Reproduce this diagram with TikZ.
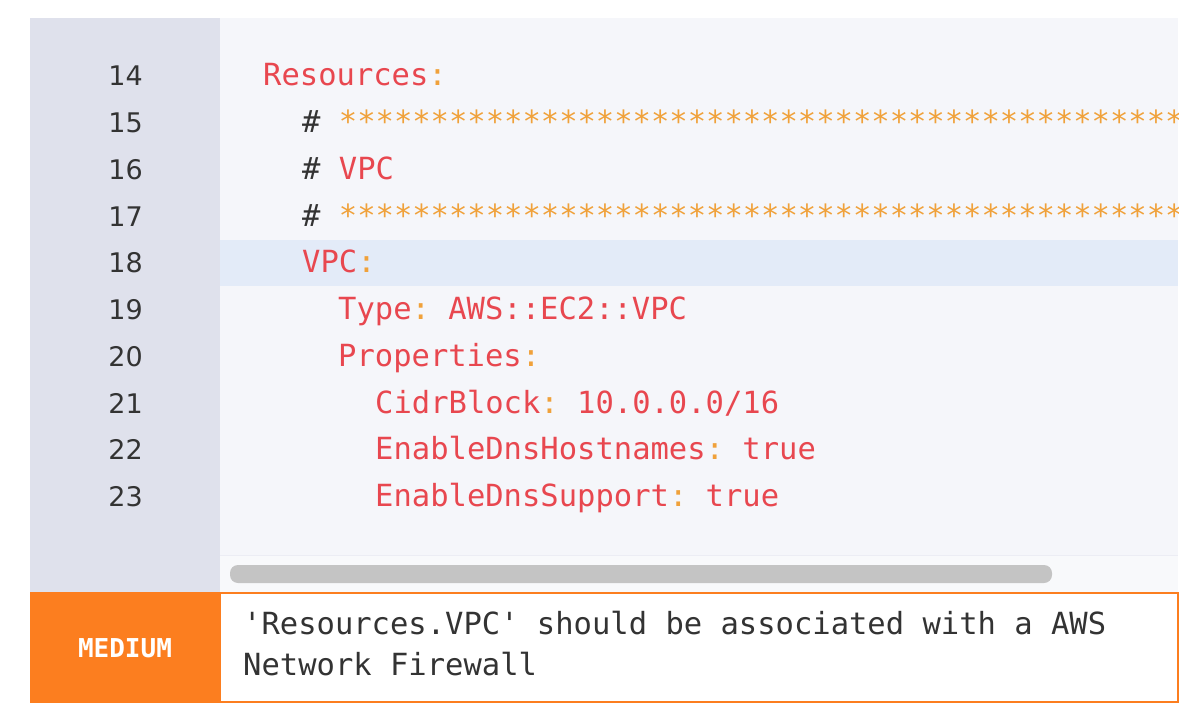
\documentclass[tikz,border=0pt]{standalone}
\usepackage{fontspec}
\setmonofont{DejaVu Sans Mono}
\setsansfont{DejaVu Sans}
\definecolor{gut}{HTML}{DFE1EC}
\definecolor{codebg}{HTML}{F5F6FA}
\definecolor{hl}{HTML}{E3EBF8}
\definecolor{kred}{HTML}{E8474F}
\definecolor{korg}{HTML}{F0A13A}
\definecolor{dark}{HTML}{333333}
\definecolor{med}{HTML}{FC7E1F}
\definecolor{bar}{HTML}{C4C4C4}
\begin{document}
\begin{tikzpicture}[x=1pt,y=-1pt,
  code/.style={anchor=base west,inner sep=0pt,font=\ttfamily\fontsize{30.5}{30}\selectfont},
  lnum/.style={anchor=base east,inner sep=0pt,font=\sffamily\fontsize{27}{27}\selectfont,text=dark}]
\useasboundingbox (0,0) rectangle (1200,717);
\fill[white] (0,0) rectangle (1200,717);
\fill[gut] (30,18) rectangle (220,592);
\fill[codebg] (220,18) rectangle (1178,555);
\fill[codebg!70!white] (220,555) rectangle (1178,592);
\draw[gut!60!white] (220,555) -- (1178,555);
\fill[hl] (220,240) rectangle (1178,286);
\fill[bar,rounded corners=8pt] (230,565) rectangle (1052,583);
\foreach \n/\y in {14/85,15/132,16/179,17/226,18/272,19/319,20/366,21/413,22/459,23/506}{
  \node[lnum] (l\n) at (143,\y) {\n};}
\begin{scope}
\clip (220,18) rectangle (1178,555);
\node[code] (t14) at (263,85) {\textcolor{kred}{Resources}\textcolor{korg}{:}};
\node[code] (t15) at (302,132) {\textcolor{dark}{\#} \textcolor{korg}{**************************************************}};
\node[code] (t16) at (302,179) {\textcolor{dark}{\#} \textcolor{kred}{VPC}};
\node[code] (t17) at (302,226) {\textcolor{dark}{\#} \textcolor{korg}{**************************************************}};
\node[code] (t18) at (302,272) {\textcolor{kred}{VPC}\textcolor{korg}{:}};
\node[code] (t19) at (338,319) {\textcolor{kred}{Type}\textcolor{korg}{:} \textcolor{kred}{AWS::EC2::VPC}};
\node[code] (t20) at (338,366) {\textcolor{kred}{Properties}\textcolor{korg}{:}};
\node[code] (t21) at (375,413) {\textcolor{kred}{CidrBlock}\textcolor{korg}{:} \textcolor{kred}{10.0.0.0/16}};
\node[code] (t22) at (375,459) {\textcolor{kred}{EnableDnsHostnames}\textcolor{korg}{:} \textcolor{kred}{true}};
\node[code] (t23) at (375,506) {\textcolor{kred}{EnableDnsSupport}\textcolor{korg}{:} \textcolor{kred}{true}};
\end{scope}
\fill[med] (30,592) rectangle (220,703);
\draw[med,line width=2pt] (220,593) rectangle (1178,702);
\node[font=\ttfamily\bfseries\fontsize{26}{26}\selectfont,text=white] (sev) at (125,648) {MEDIUM};
\node[anchor=north west,inner sep=0pt,align=left,text=dark,font=\ttfamily\fontsize{30.5}{41}\selectfont] (msg) at (243,611) {'Resources.VPC' should be associated with a AWS\\Network Firewall};
\end{tikzpicture}
\end{document}
